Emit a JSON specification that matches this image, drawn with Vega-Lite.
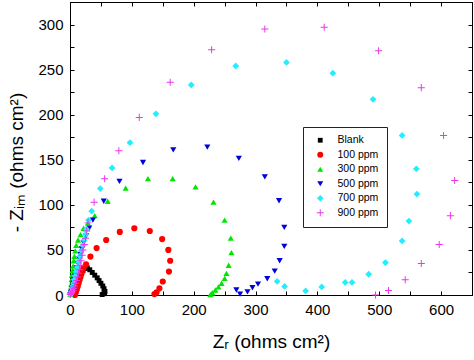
{
  "$schema": "https://vega.github.io/schema/vega-lite/v6.json",
  "width": 402,
  "height": 293,
  "autosize": {"type": "none"},
  "padding": {"left": 70, "top": 2, "right": 2, "bottom": 65},
  "background": "white",
  "config": {
    "view": {"stroke": "black", "strokeWidth": 1},
    "axis": {
      "domainColor": "black", "tickColor": "black", "labelColor": "black", "titleColor": "black",
      "labelFont": "Liberation Sans", "titleFont": "Liberation Sans",
      "labelFontSize": 15, "titleFontSize": 19, "titleFontWeight": "normal",
      "tickSize": -4, "grid": false, "labelFlush": false, "labelOverlap": false
    },
    "legend": {
      "orient": "none", "legendX": 233, "legendY": 125,
      "strokeColor": "#222", "fillColor": "white", "padding": 8,
      "symbolSize": 36, "labelFont": "Liberation Sans", "labelFontSize": 10.5,
      "labelOffset": 12, "rowPadding": 3.5, "symbolOffset": 4, "symbolStrokeWidth": 0
    }
  },
  "data": {"values": [
    {"s":"Blank","x":2,"y":1},{"s":"Blank","x":4,"y":3},{"s":"Blank","x":6,"y":6},{"s":"Blank","x":8,"y":9},{"s":"Blank","x":10,"y":12},{"s":"Blank","x":12,"y":15},{"s":"Blank","x":14,"y":18},{"s":"Blank","x":16,"y":21},{"s":"Blank","x":18,"y":24},{"s":"Blank","x":21,"y":27},{"s":"Blank","x":24,"y":29.5},{"s":"Blank","x":28,"y":30},{"s":"Blank","x":32,"y":28},{"s":"Blank","x":36,"y":25},{"s":"Blank","x":40,"y":22},{"s":"Blank","x":44,"y":19},{"s":"Blank","x":47,"y":16},{"s":"Blank","x":50,"y":13},{"s":"Blank","x":53,"y":10},{"s":"Blank","x":55,"y":7},{"s":"Blank","x":56.5,"y":4},{"s":"Blank","x":56,"y":1.5},{"s":"Blank","x":52,"y":0.5},
    {"s":"100 ppm","x":8,"y":0},{"s":"100 ppm","x":9.5,"y":3},{"s":"100 ppm","x":11,"y":6},{"s":"100 ppm","x":12.5,"y":9.5},{"s":"100 ppm","x":14,"y":13},{"s":"100 ppm","x":15.5,"y":16.5},{"s":"100 ppm","x":17,"y":20},{"s":"100 ppm","x":18.5,"y":23.5},{"s":"100 ppm","x":20,"y":27},{"s":"100 ppm","x":22,"y":30.5},{"s":"100 ppm","x":26,"y":34},{"s":"100 ppm","x":33,"y":42.6},{"s":"100 ppm","x":43,"y":52},{"s":"100 ppm","x":58.5,"y":61},{"s":"100 ppm","x":80.5,"y":70},{"s":"100 ppm","x":104,"y":74},{"s":"100 ppm","x":129,"y":71},{"s":"100 ppm","x":149,"y":62},{"s":"100 ppm","x":159,"y":50},{"s":"100 ppm","x":162,"y":38},{"s":"100 ppm","x":160,"y":26},{"s":"100 ppm","x":150,"y":15},{"s":"100 ppm","x":144.6,"y":7.4},{"s":"100 ppm","x":140,"y":3},{"s":"100 ppm","x":136.5,"y":1},
    {"s":"300 ppm","x":0.5,"y":1},{"s":"300 ppm","x":1,"y":4},{"s":"300 ppm","x":1.5,"y":8},{"s":"300 ppm","x":2,"y":12},{"s":"300 ppm","x":2.5,"y":17},{"s":"300 ppm","x":3,"y":22},{"s":"300 ppm","x":4,"y":27},{"s":"300 ppm","x":5,"y":32},{"s":"300 ppm","x":6,"y":38},{"s":"300 ppm","x":7,"y":43},{"s":"300 ppm","x":8.5,"y":49},{"s":"300 ppm","x":10,"y":55},{"s":"300 ppm","x":13,"y":61},{"s":"300 ppm","x":17,"y":67},{"s":"300 ppm","x":22,"y":74},{"s":"300 ppm","x":29,"y":80},{"s":"300 ppm","x":40,"y":88},{"s":"300 ppm","x":61,"y":104},{"s":"300 ppm","x":90,"y":118.5},{"s":"300 ppm","x":126,"y":129},{"s":"300 ppm","x":166,"y":129},{"s":"300 ppm","x":203,"y":120},{"s":"300 ppm","x":232,"y":103},{"s":"300 ppm","x":250,"y":83},{"s":"300 ppm","x":260,"y":63},{"s":"300 ppm","x":261,"y":47},{"s":"300 ppm","x":256.5,"y":33},{"s":"300 ppm","x":253,"y":24},{"s":"300 ppm","x":250,"y":18.5},{"s":"300 ppm","x":245,"y":13},{"s":"300 ppm","x":240,"y":9},{"s":"300 ppm","x":235,"y":5.5},{"s":"300 ppm","x":230,"y":2.5},{"s":"300 ppm","x":227,"y":0.5},
    {"s":"500 ppm","x":0.5,"y":0.5},{"s":"500 ppm","x":1.5,"y":2},{"s":"500 ppm","x":2.5,"y":4},{"s":"500 ppm","x":3.5,"y":7},{"s":"500 ppm","x":4.5,"y":10},{"s":"500 ppm","x":5.5,"y":13},{"s":"500 ppm","x":6.5,"y":17},{"s":"500 ppm","x":8,"y":21},{"s":"500 ppm","x":9.5,"y":25},{"s":"500 ppm","x":11,"y":30},{"s":"500 ppm","x":13,"y":35},{"s":"500 ppm","x":15,"y":40},{"s":"500 ppm","x":17,"y":45},{"s":"500 ppm","x":19,"y":51},{"s":"500 ppm","x":22,"y":58},{"s":"500 ppm","x":26,"y":65.6},{"s":"500 ppm","x":31,"y":74},{"s":"500 ppm","x":37,"y":83},{"s":"500 ppm","x":54.6,"y":104},{"s":"500 ppm","x":80,"y":126},{"s":"500 ppm","x":118,"y":147},{"s":"500 ppm","x":167,"y":161},{"s":"500 ppm","x":222,"y":164},{"s":"500 ppm","x":273,"y":151.5},{"s":"500 ppm","x":315,"y":131},{"s":"500 ppm","x":338,"y":104.5},{"s":"500 ppm","x":346.5,"y":75},{"s":"500 ppm","x":346.5,"y":54},{"s":"500 ppm","x":339,"y":38},{"s":"500 ppm","x":331,"y":26.5},{"s":"500 ppm","x":319,"y":18},{"s":"500 ppm","x":304,"y":12},{"s":"500 ppm","x":295,"y":8},{"s":"500 ppm","x":287,"y":3.5},{"s":"500 ppm","x":275,"y":1},{"s":"500 ppm","x":269,"y":5.5},
    {"s":"700 ppm","x":1,"y":0.5},{"s":"700 ppm","x":2,"y":2},{"s":"700 ppm","x":3,"y":4},{"s":"700 ppm","x":4,"y":7},{"s":"700 ppm","x":5,"y":10},{"s":"700 ppm","x":6,"y":13},{"s":"700 ppm","x":7,"y":17},{"s":"700 ppm","x":8.5,"y":21},{"s":"700 ppm","x":10,"y":26},{"s":"700 ppm","x":12,"y":31},{"s":"700 ppm","x":14,"y":37},{"s":"700 ppm","x":16,"y":43},{"s":"700 ppm","x":18.5,"y":49},{"s":"700 ppm","x":21,"y":55},{"s":"700 ppm","x":23,"y":61},{"s":"700 ppm","x":25,"y":67},{"s":"700 ppm","x":26.7,"y":73},{"s":"700 ppm","x":30,"y":83},{"s":"700 ppm","x":35,"y":93},{"s":"700 ppm","x":49,"y":118},{"s":"700 ppm","x":68,"y":141},{"s":"700 ppm","x":97,"y":169},{"s":"700 ppm","x":139,"y":201},{"s":"700 ppm","x":196,"y":233},{"s":"700 ppm","x":268,"y":254},{"s":"700 ppm","x":350,"y":258},{"s":"700 ppm","x":425,"y":246},{"s":"700 ppm","x":490,"y":217},{"s":"700 ppm","x":537,"y":177},{"s":"700 ppm","x":560,"y":140},{"s":"700 ppm","x":561,"y":112},{"s":"700 ppm","x":548,"y":82},{"s":"700 ppm","x":537,"y":60},{"s":"700 ppm","x":510,"y":36},{"s":"700 ppm","x":483,"y":23},{"s":"700 ppm","x":456,"y":14},{"s":"700 ppm","x":445,"y":14},{"s":"700 ppm","x":407,"y":9},{"s":"700 ppm","x":381,"y":4.5},{"s":"700 ppm","x":347,"y":9.5},{"s":"700 ppm","x":335,"y":15},
    {"s":"900 ppm","x":0.5,"y":0.5},{"s":"900 ppm","x":1.5,"y":1.5},{"s":"900 ppm","x":3,"y":3},{"s":"900 ppm","x":4.5,"y":5},{"s":"900 ppm","x":6,"y":7.5},{"s":"900 ppm","x":7.5,"y":10},{"s":"900 ppm","x":9,"y":13},{"s":"900 ppm","x":10.5,"y":16},{"s":"900 ppm","x":12,"y":20},{"s":"900 ppm","x":13.5,"y":24},{"s":"900 ppm","x":15,"y":28},{"s":"900 ppm","x":16.5,"y":33},{"s":"900 ppm","x":18,"y":38},{"s":"900 ppm","x":19.5,"y":44},{"s":"900 ppm","x":21,"y":50},{"s":"900 ppm","x":23,"y":56},{"s":"900 ppm","x":25,"y":63},{"s":"900 ppm","x":27,"y":71},{"s":"900 ppm","x":29,"y":80},{"s":"900 ppm","x":39,"y":103},{"s":"900 ppm","x":56,"y":129},{"s":"900 ppm","x":79,"y":160},{"s":"900 ppm","x":112,"y":197},{"s":"900 ppm","x":162,"y":236},{"s":"900 ppm","x":229,"y":272},{"s":"900 ppm","x":315,"y":295},{"s":"900 ppm","x":411,"y":297},{"s":"900 ppm","x":499,"y":271},{"s":"900 ppm","x":568,"y":230},{"s":"900 ppm","x":604,"y":177},{"s":"900 ppm","x":622,"y":127},{"s":"900 ppm","x":615,"y":88},{"s":"900 ppm","x":597,"y":56},{"s":"900 ppm","x":568,"y":35},{"s":"900 ppm","x":542,"y":17},{"s":"900 ppm","x":515,"y":5},{"s":"900 ppm","x":494,"y":0}
  ]},
  "layer": [
    {
      "mark": {"type": "point", "filled": true, "opacity": 1, "size": 38},
      "encoding": {
        "x": {
          "field": "x", "type": "quantitative",
          "scale": {"domain": [0, 650], "nice": false, "zero": false},
          "axis": {
            "orient": "bottom",
            "values": [0,50,100,150,200,250,300,350,400,450,500,550,600,650],
            "labelExpr": "datum.value % 100 === 0 ? datum.label : ''",
            "labelPadding": 11,
            "title": "Zᵣ (ohms cm²)", "titlePadding": 15
          }
        },
        "y": {
          "field": "y", "type": "quantitative",
          "scale": {"domain": [0, 325], "nice": false, "zero": false},
          "axis": {
            "orient": "left",
            "values": [0,25,50,75,100,125,150,175,200,225,250,275,300,325],
            "labelExpr": "datum.value % 50 === 0 ? datum.label : ''",
            "labelPadding": 11,
            "title": "- Zᵢₘ (ohms cm²)", "titlePadding": 11, "titleY": 160
          }
        },
        "color": {
          "field": "s", "type": "nominal",
          "scale": {
            "domain": ["Blank","100 ppm","300 ppm","500 ppm","700 ppm","900 ppm"],
            "range": ["#000000","#ff0000","#00e600","#0000dd","#22eeff","#ee33ee"]
          },
          "legend": {"title": null}
        },
        "shape": {
          "field": "s", "type": "nominal",
          "scale": {
            "domain": ["Blank","100 ppm","300 ppm","500 ppm","700 ppm","900 ppm"],
            "range": [
              "M-0.8,-0.8H0.8V0.8H-0.8Z",
              "circle",
              "triangle-up",
              "triangle-down",
              "M0,-1.1L1.1,0L0,1.1L-1.1,0Z",
              "M-1.15,-0.16H-0.16V-1.15H0.16V-0.16H1.15V0.16H0.16V1.15H-0.16V0.16H-1.15Z"
            ]
          },
          "legend": {"title": null}
        }
      }
    },
    {
      "mark": {"type": "point", "opacity": 0},
      "encoding": {
        "x": {
          "field": "x", "type": "quantitative",
          "axis": {"orient": "top", "values": [0,50,100,150,200,250,300,350,400,450,500,550,600,650], "labels": false, "title": null}
        },
        "y": {
          "field": "y", "type": "quantitative",
          "axis": {"orient": "right", "values": [0,25,50,75,100,125,150,175,200,225,250,275,300,325], "labels": false, "title": null}
        }
      }
    }
  ],
  "resolve": {"axis": {"x": "independent", "y": "independent"}}
}
